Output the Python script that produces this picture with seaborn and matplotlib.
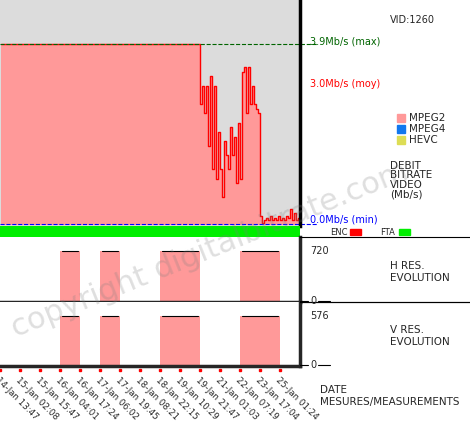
import numpy as np
import pandas as pd
import matplotlib
matplotlib.use("Agg")
import matplotlib.pyplot as plt
import seaborn as sns

# one sample every 2 px of the original chart (150 samples)
bitrate = ([3.9] * 100 +
           [2.6, 3.0, 2.4, 3.0, 1.7, 3.2, 1.2, 3.0, 1.0, 2.0, 1.2, 0.6, 1.8, 1.5,
            1.2, 2.1, 1.5, 1.9, 0.9, 2.2, 1.0, 3.3, 3.4, 2.4, 3.4, 2.6, 3.0, 2.6,
            2.5, 2.4, 0.2, 0.05, 0.1, 0.15, 0.1, 0.2, 0.1, 0.15, 0.1, 0.2, 0.1,
            0.15, 0.1, 0.2, 0.15, 0.35, 0.1, 0.25, 0.1, 0.15])
h_res = [0] * 30 + [720] * 10 + [0] * 10 + [720] * 10 + [0] * 20 + [720] * 20 + [0] * 20 + [720] * 20 + [0] * 10
v_res = [0] * 30 + [576] * 10 + [0] * 10 + [576] * 10 + [0] * 20 + [576] * 20 + [0] * 20 + [576] * 20 + [0] * 10
tick_labels = ["14-Jan 13:47", "15-Jan 02:08", "15-Jan 15:47", "16-Jan 04:01", "16-Jan 17:24",
               "17-Jan 06:02", "17-Jan 19:45", "18-Jan 08:21", "18-Jan 22:15", "19-Jan 10:29",
               "19-Jan 21:47", "21-Jan 01:03", "22-Jan 07:19", "23-Jan 17:04", "25-Jan 01:24"]
bmax, bmoy, bmin = 3.9, 3.0, 0.0

sns.set_style("white")
plt.rcParams['font.family'] = ['DejaVu Sans']
W, H = 470, 430
fig = plt.figure(figsize=(4.7, 4.3), dpi=100)

def box(x0, y0, x1, y1):
    return [x0 / W, 1 - y1 / H, (x1 - x0) / W, (y1 - y0) / H]

df = pd.DataFrame({"x": np.arange(len(bitrate)) + 0.5, "b": bitrate, "h": h_res, "v": v_res})
pink = "#ff9999"
n = len(bitrate)

ax = fig.add_axes(box(0, 0, 300, 226))
ax.set_facecolor("#dcdcdc")
ax.fill_between(df.x, df.b, step="mid", color=pink, lw=0)
sns.lineplot(data=df, x="x", y="b", ax=ax, color="red", lw=1, drawstyle="steps-mid")
ax.axhline(bmax, color="darkgreen", ls="--", lw=0.8, clip_on=False, xmax=1.06)
ax.axhline(bmin + 0.02, color="blue", ls="--", lw=0.8, clip_on=False, xmax=1.06)
ax.set_xlim(0, n)
ax.set_ylim(-0.02, 4.84)
ax.set_xticks([]); ax.set_yticks([])
ax.set_xlabel(""); ax.set_ylabel("")
for s in ax.spines.values():
    s.set_visible(False)
ax.spines["right"].set_visible(True)
ax.spines["right"].set_linewidth(2.5)
ax.spines["right"].set_color("black")

gx = fig.add_axes(box(0, 226, 300, 237))
gx.set_facecolor("#00ee00")
gx.set_xticks([]); gx.set_yticks([])
for s in gx.spines.values():
    s.set_visible(False)

for (y0, y1, col, top) in [(237, 302, "h", 720), (302, 366, "v", 576)]:
    a = fig.add_axes(box(0, y0, 300, y1))
    a.fill_between(df.x, df[col], step="mid", color=pink, lw=0)
    mask = df[col] > 0
    a.plot(df.x.where(mask), df[col].where(mask), color="black", lw=0.8, drawstyle="steps-mid")
    a.set_xlim(0, n)
    a.set_ylim(0, top * 1.28)
    a.set_xticks([]); a.set_yticks([])
    for s in a.spines.values():
        s.set_visible(False)
    a.spines["right"].set_visible(True); a.spines["right"].set_linewidth(2.5)
    a.spines["bottom"].set_visible(True); a.spines["bottom"].set_linewidth(2.5)
    fig.text(310 / W, 1 - (y0 + 14) / H, str(top), fontsize=7, va="center")
    fig.text(310 / W, 1 - (y1 - 1) / H, "0", fontsize=7, va="center")
    fig.add_artist(plt.Line2D([300 / W, 308 / W], [1 - (y1 - 1) / H] * 2, color="black", lw=0.8))
    fig.add_artist(plt.Line2D([318 / W, 330 / W], [1 - (y1 - 1) / H] * 2, color="black", lw=0.8))
    fig.add_artist(plt.Line2D([300 / W, 1], [1 - y0 / H] * 2, color="black", lw=0.8))
fig.add_artist(plt.Line2D([300 / W, 1], [1 - 302 / H] * 2, color="black", lw=0.8))
a.set_xticks(np.arange(0, 150, 10) + 0.3)
a.set_xticklabels(tick_labels, rotation=-45, ha="left", va="top", fontsize=6.3, rotation_mode="anchor")
a.tick_params(axis="x", length=0, pad=7)
a.plot(np.arange(0, 150, 10), [-50] * 15, ls="", marker="s", ms=1.5, color="red", clip_on=False)

fs = 7
fig.text(390 / W, 1 - 20 / H, "VID:1260", fontsize=fs, va="center")
fig.text(310 / W, 1 - 42 / H, "3.9Mb/s (max)", fontsize=fs, color="darkgreen", va="center")
fig.text(310 / W, 1 - 84 / H, "3.0Mb/s (moy)", fontsize=fs, color="red", va="center")
fig.text(310 / W, 1 - 219 / H, "0.0Mb/s (min)", fontsize=fs, color="blue", va="center")
for i, (lab, c) in enumerate([("MPEG2", pink), ("MPEG4", "#1177ee"), ("HEVC", "#dddd55")]):
    y = 118 + i * 11
    fig.add_artist(plt.Rectangle((397 / W, 1 - (y + 4) / H), 8 / W, 8 / H, color=c))
    fig.text(409 / W, 1 - y / H, lab, fontsize=fs + 0.5, va="center")
fig.text(390 / W, 1 - 180 / H, "DEBIT\nBITRATE\nVIDEO\n(Mb/s)", fontsize=fs + 0.5, va="center", linespacing=0.95)
fig.text(330 / W, 1 - 232 / H, "ENC", fontsize=6, va="center")
fig.add_artist(plt.Rectangle((350 / W, 1 - 235 / H), 11 / W, 6 / H, color="red"))
fig.text(380 / W, 1 - 232 / H, "FTA", fontsize=6, va="center")
fig.add_artist(plt.Rectangle((399 / W, 1 - 235 / H), 11 / W, 6 / H, color="#00ee00"))
fig.text(390 / W, 1 - 272 / H, "H RES.\nEVOLUTION", fontsize=fs + 0.5, va="center")
fig.text(390 / W, 1 - 336 / H, "V RES.\nEVOLUTION", fontsize=fs + 0.5, va="center")
fig.text(320 / W, 1 - 396 / H, "DATE\nMESURES/MEASUREMENTS", fontsize=fs + 0.5, va="center")
fig.text(210 / W, 1 - 250 / H, "copyright digitalbitrate.com", fontsize=22, color="gray",
         alpha=0.25, rotation=22, ha="center", va="center")

fig.savefig("out.png", dpi=100)
